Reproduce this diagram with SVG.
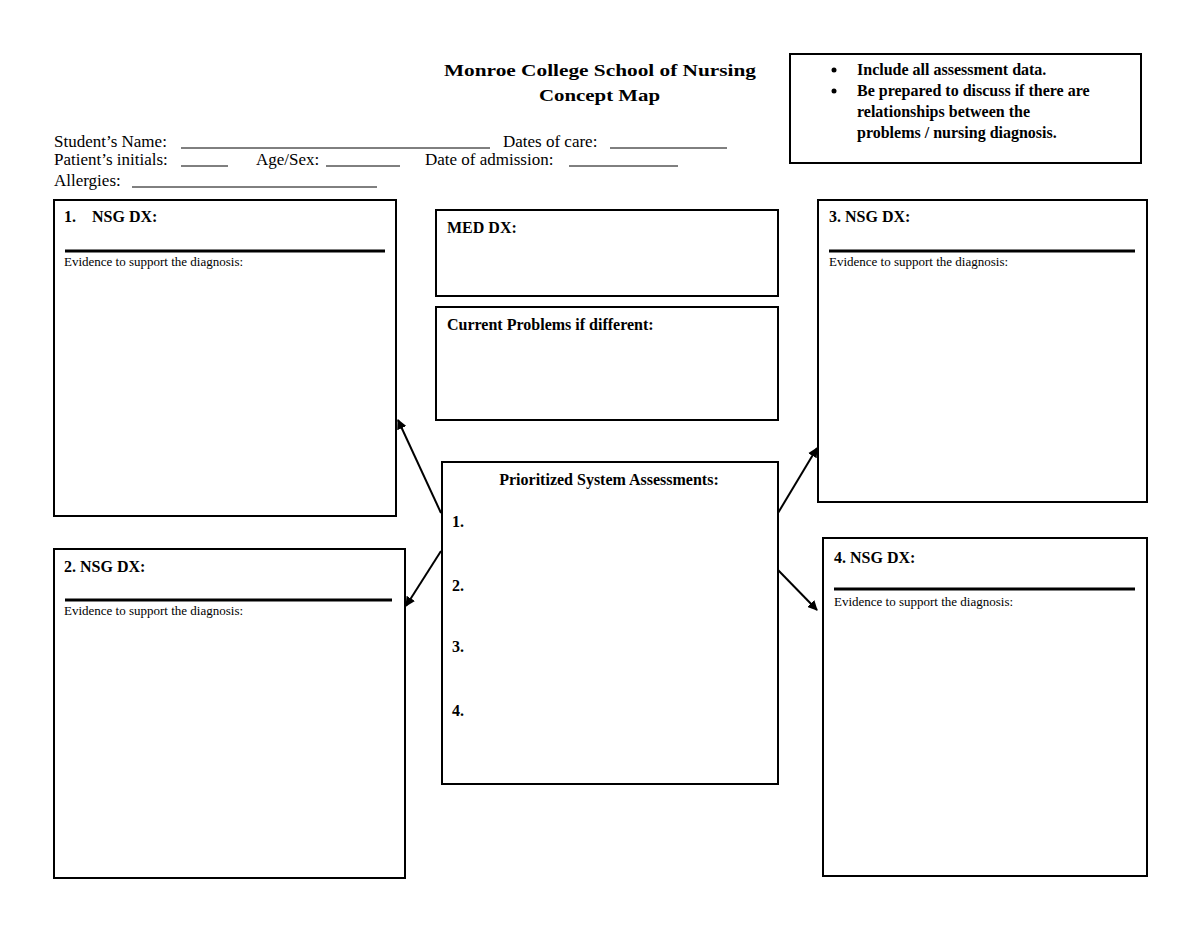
<svg xmlns="http://www.w3.org/2000/svg" width="1200" height="927" viewBox="0 0 1200 927">
<defs>
<style>
.b{fill:#fff;stroke:#000;stroke-width:2}
.t{font-family:"Liberation Serif","Times New Roman",serif;font-size:17px;fill:#000}
.bo{font-family:"Liberation Serif","Times New Roman",serif;font-size:16px;font-weight:bold;fill:#000}
.s{font-family:"Liberation Serif","Times New Roman",serif;font-size:13px;fill:#000}
.ln{stroke:#000;stroke-width:3}
.ul{stroke:#000;stroke-width:1}
.c{stroke:#000;stroke-width:2;fill:none;marker-end:url(#a)}
</style>
<marker id="a" viewBox="0 0 10 10" refX="9" refY="5" markerWidth="5" markerHeight="5" orient="auto"><path d="M0,0L10,5L0,10z" fill="#000"/></marker>
</defs>
<rect width="1200" height="927" fill="#fff"/>
<g id="header">
<text class="bo" x="444" y="76" font-size="21" textLength="312" lengthAdjust="spacingAndGlyphs">Monroe College School of Nursing</text>
<text class="bo" x="539" y="101" font-size="21" textLength="121" lengthAdjust="spacingAndGlyphs">Concept Map</text>
<text class="t" x="54" y="147">Student’s Name:</text><line class="ul" x1="181" y1="148" x2="490" y2="148"/>
<text class="t" x="503" y="147">Dates of care:</text><line class="ul" x1="610" y1="148" x2="727" y2="148"/>
<text class="t" x="54" y="165">Patient’s initials:</text><line class="ul" x1="181" y1="166" x2="228" y2="166"/>
<text class="t" x="256" y="165">Age/Sex:</text><line class="ul" x1="326" y1="166" x2="400" y2="166"/>
<text class="t" x="425" y="165">Date of admission:</text><line class="ul" x1="569" y1="166" x2="678" y2="166"/>
<text class="t" x="54" y="186">Allergies:</text><line class="ul" x1="132" y1="187" x2="377" y2="187"/>
</g>
<g id="note">
<rect class="b" x="790" y="54" width="351" height="109"/>
<circle cx="834" cy="70" r="2.5"/><circle cx="834" cy="91" r="2.5"/>
<text class="bo" x="857" y="75" font-size="15">Include all assessment data.</text>
<text class="bo" x="857" y="96" font-size="15">Be prepared to discuss if there are</text>
<text class="bo" x="857" y="117" font-size="15">relationships between the</text>
<text class="bo" x="857" y="138" font-size="15">problems / nursing diagnosis.</text>
</g>
<g id="nsg1">
<rect class="b" x="54" y="200" width="342" height="316"/>
<text class="bo" x="64" y="222">1.<tspan x="92">NSG DX:</tspan></text>
<line class="ln" x1="65" y1="251" x2="385" y2="251"/>
<text class="s" x="64" y="266">Evidence to support the diagnosis:</text>
</g>
<g id="nsg2">
<rect class="b" x="54" y="549" width="351" height="329"/>
<text class="bo" x="64" y="572">2. NSG DX:</text>
<line class="ln" x1="65" y1="600" x2="392" y2="600"/>
<text class="s" x="64" y="615">Evidence to support the diagnosis:</text>
</g>
<g id="med">
<rect class="b" x="436" y="210" width="342" height="86"/>
<text class="bo" x="447" y="233">MED DX:</text>
</g>
<g id="current">
<rect class="b" x="436" y="307" width="342" height="113"/>
<text class="bo" x="447" y="330">Current Problems if different:</text>
</g>
<g id="prior">
<rect class="b" x="442" y="462" width="336" height="322"/>
<text class="bo" x="609" y="485" text-anchor="middle">Prioritized System Assessments:</text>
<text class="bo" x="452" y="527">1.</text>
<text class="bo" x="452" y="591">2.</text>
<text class="bo" x="452" y="652">3.</text>
<text class="bo" x="452" y="716">4.</text>
</g>
<g id="nsg3">
<rect class="b" x="818" y="200" width="329" height="302"/>
<text class="bo" x="829" y="222">3. NSG DX:</text>
<line class="ln" x1="829" y1="251" x2="1135" y2="251"/>
<text class="s" x="829" y="266">Evidence to support the diagnosis:</text>
</g>
<g id="nsg4">
<rect class="b" x="823" y="538" width="324" height="338"/>
<text class="bo" x="834" y="563">4. NSG DX:</text>
<line class="ln" x1="834" y1="589" x2="1135" y2="589"/>
<text class="s" x="834" y="606">Evidence to support the diagnosis:</text>
</g>
<g id="connectors">
<line class="c" x1="441" y1="513" x2="398" y2="420"/>
<line class="c" x1="441" y1="551" x2="406" y2="606"/>
<line class="c" x1="778" y1="513" x2="817" y2="448"/>
<line class="c" x1="778" y1="570" x2="817" y2="610"/>
</g>
</svg>
